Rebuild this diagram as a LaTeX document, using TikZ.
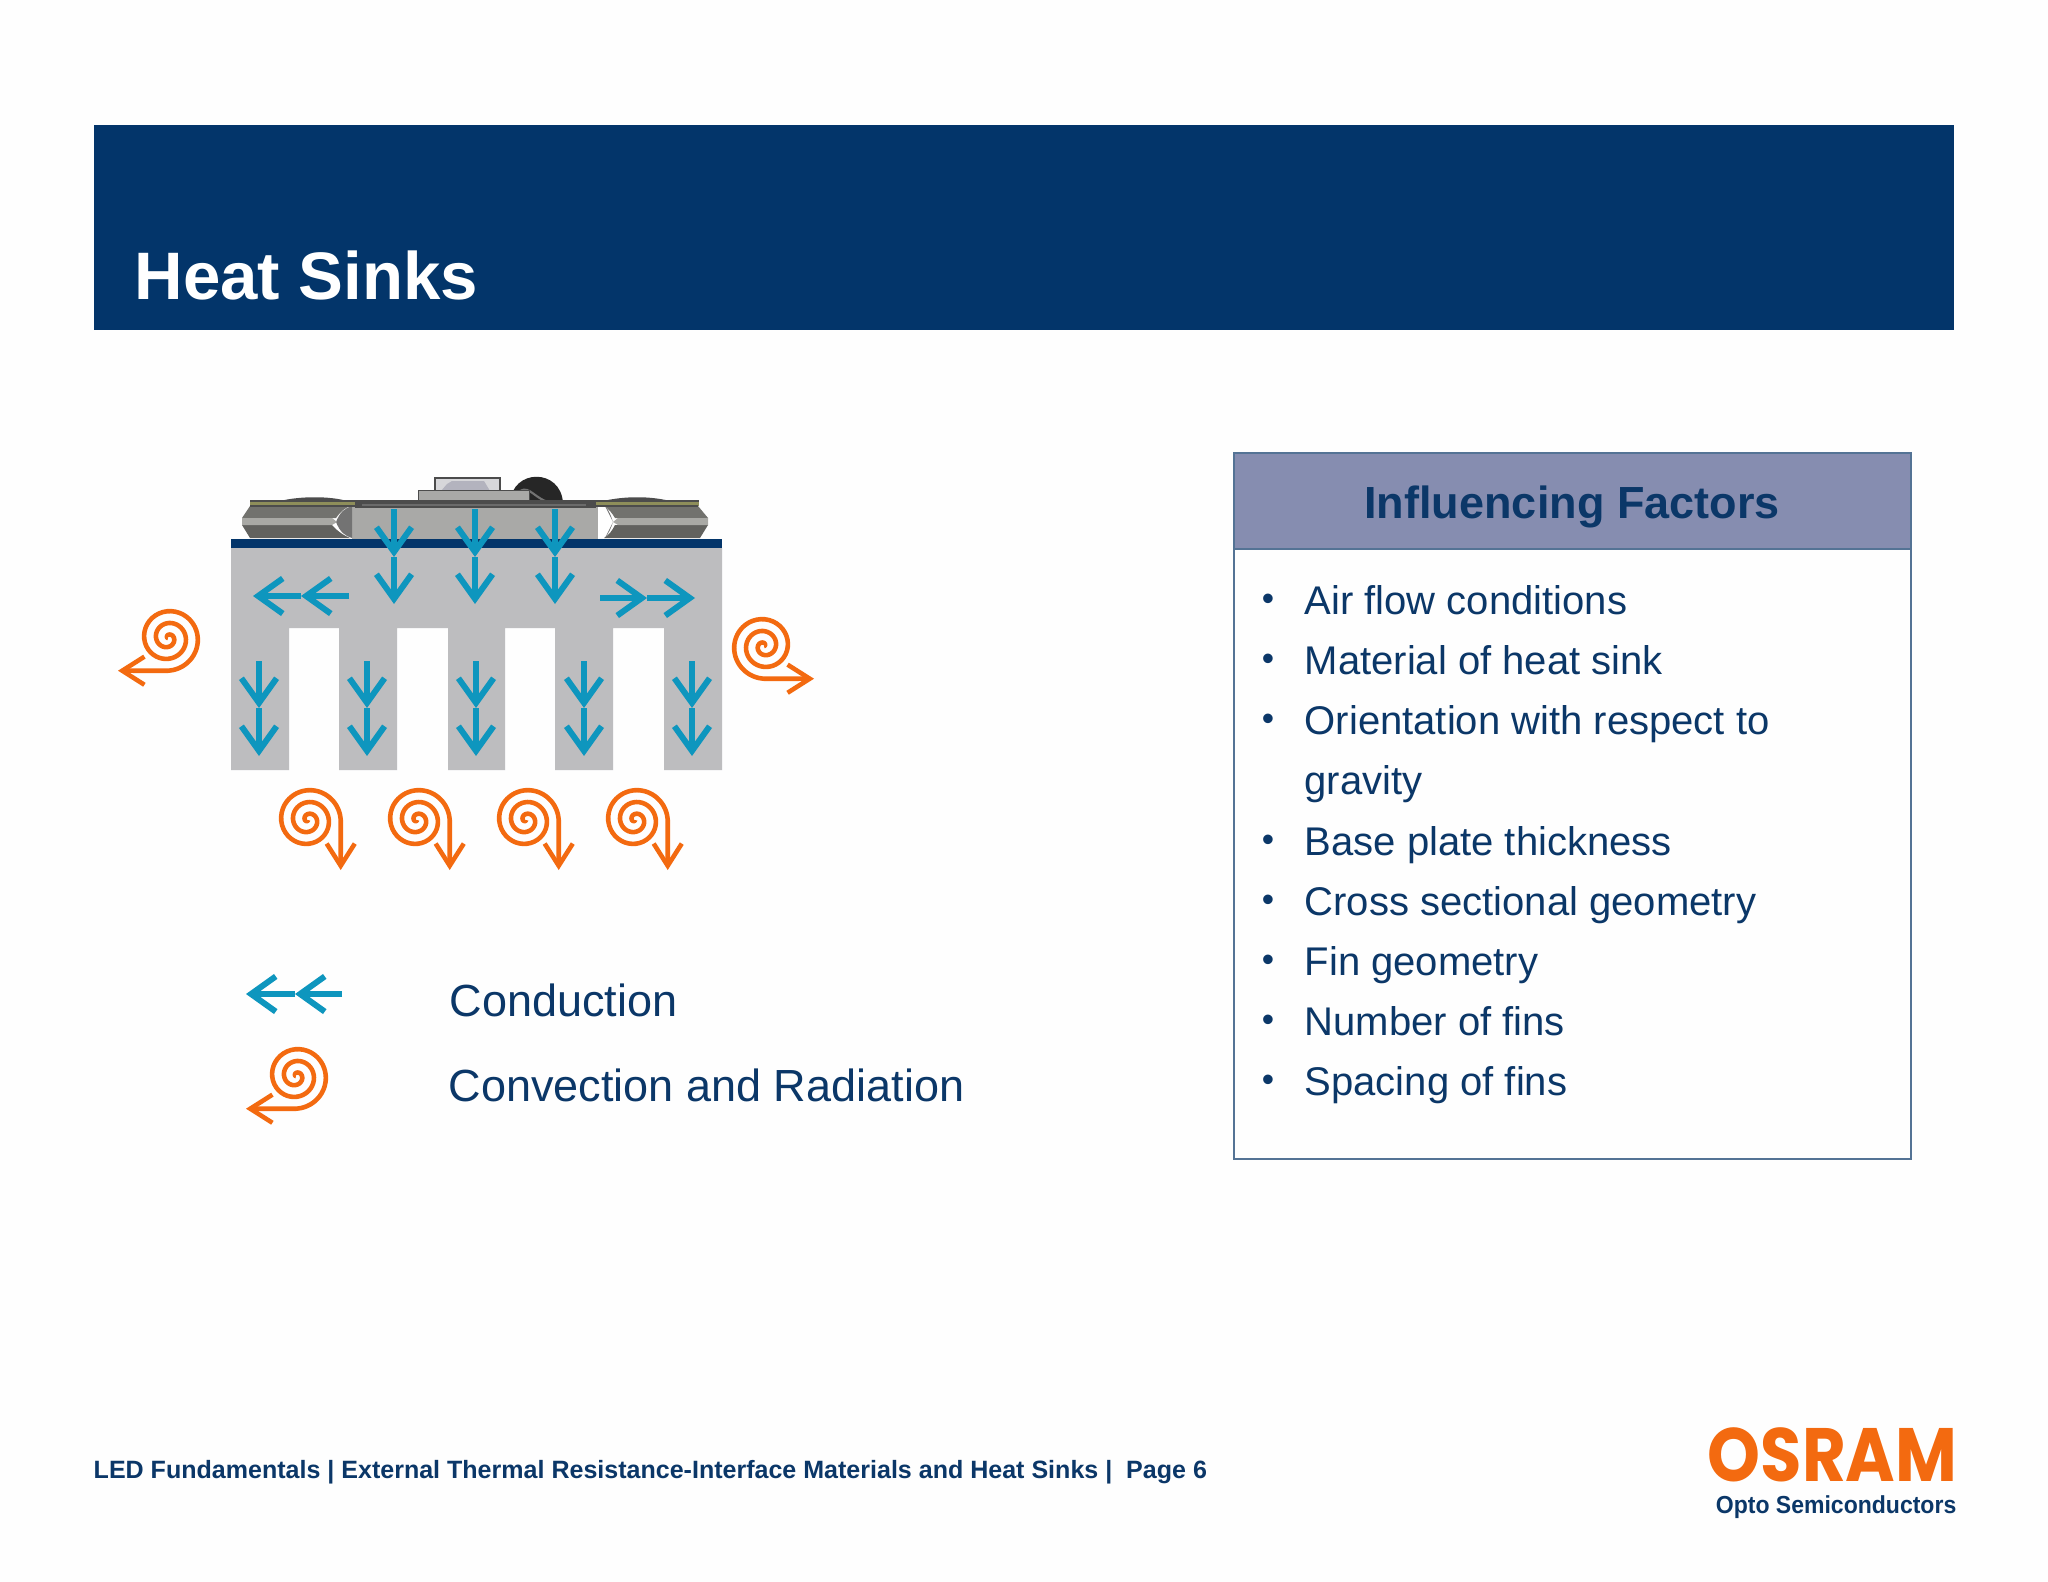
\documentclass[tikz,border=0pt]{standalone}
\usepackage{fontspec}
\usepackage{xcolor}
\usetikzlibrary{arrows.meta}
\setmainfont{Liberation Sans}
\newfontfamily\logofont{Poppins}

\definecolor{navy}{HTML}{03356A}
\definecolor{inktext}{HTML}{0B3768}
\definecolor{headfill}{HTML}{868DB0}
\definecolor{finfill}{HTML}{BDBDBF}
\definecolor{condblue}{HTML}{0E96BE}
\definecolor{swirlorange}{HTML}{F36A10}
\definecolor{leadup}{HTML}{72726E}
\definecolor{leaddown}{HTML}{62625F}
\definecolor{leadstripe}{HTML}{A9A9A5}
\definecolor{bodygray}{HTML}{A9A9A7}
\definecolor{olive}{HTML}{8E8E5A}

\tikzset{
    condarrow/.style = {draw=condblue, line width=1.7pt, -{Straight Barb[length=7pt,width=10pt]}},
    swirlline/.style = {draw=swirlorange, line width=1.3pt, -{Straight Barb[length=6.3pt,width=8pt]}},
    swirl/.pic = {
        \draw[swirlline] plot[smooth, domain=-180:810, samples=110]
            ({(6+0.033*\x)*cos(\x)},{(6+0.033*\x)*sin(\x)}) -- (-50,32.7);
    },
    itemtext/.style = {anchor=base west, inner sep=0pt, text=inktext, font=\fontsize{11.38}{14}\selectfont},
    itembullet/.style = {anchor=base, inner sep=0pt, text=inktext, font=\fontsize{10}{12}\selectfont},
    legendtext/.style = {anchor=base west, inner sep=0pt, text=inktext, font=\fontsize{12.8}{15}\selectfont},
    modline/.style = {draw=black!70, line width=.3pt}
}

\begin{document}
\begin{tikzpicture}[x=0.01cm, y=-0.01cm]
    \useasboundingbox (0,0) rectangle (2048,1582);
    \fill[white!99.6!black] (0,0) rectangle (2048,1582);

    % title band
    \fill[navy] (94,125) rectangle (1954,330);
    \node[anchor=base west, inner sep=0pt, text=white, font=\fontsize{19.1}{23}\selectfont\bfseries] (title) at (134,300) {Heat Sinks};

    % heat sink
    \fill[finfill] (231,548) -- (722,548) -- (722,770) -- (664,770) -- (664,628) -- (613,628) -- (613,770)
        -- (555,770) -- (555,628) -- (505,628) -- (505,770) -- (448,770) -- (448,628) -- (397,628) -- (397,770)
        -- (339,770) -- (339,628) -- (289,628) -- (289,770) -- (231,770) -- cycle;
    \fill[navy] (231,539) rectangle (722,548);

    % LED module
    \fill[black!85] (510,503) .. controls (512,468) and (561,468) .. (563,503) -- cycle;
    \draw[black!55, line width=.6pt] (520,491) .. controls (530,485) and (535,500) .. (552,503);
    \fill[black!70] (280,501) .. controls (300,496) and (330,496) .. (347,501) -- cycle;
    \fill[black!70] (603,501) .. controls (625,496) and (650,496) .. (670,501) -- cycle;
    \fill[blue!4!gray!30] (435,478) rectangle (500,491);
    \draw[modline] (435,478) rectangle (500,491);
    \fill[blue!8!gray!55] (447,484) -- (452,481) -- (484,481) -- (490,491) -- (441,491) -- cycle;
    \draw[modline] (419,491) rectangle (529,502);
    \fill[bodygray] (419,491) rectangle (529,502);
    \fill[bodygray] (352,506) rectangle (598,539);
    \fill[black!55] (336,522) .. controls (340,512) and (345,508) .. (352,506) -- (352,538) .. controls (345,536) and (340,532) .. (336,522) -- cycle;
    \fill[leadup] (250,506) -- (242,518) -- (336,518) .. controls (340,512) and (345,508) .. (350,506) -- cycle;
    \fill[leaddown] (242,525) -- (250,538) -- (350,538) .. controls (345,536) and (338,532) .. (332,525) -- cycle;
    \fill[leadstripe] (242,518) -- (332,518) -- (337,522) -- (332,525) -- (242,525) -- cycle;
    \fill[white] (598,506) .. controls (606,507) and (610,514) .. (613,522) .. controls (610,530) and (606,537) .. (598,538) -- cycle;
    \fill[black!55] (605,506) -- (613,522) -- (605,538) .. controls (609,533) and (611,528) .. (613,522) .. controls (611,516) and (609,510) .. (605,506) -- cycle;
    \fill[leadup] (604,506) -- (698,506) -- (708,518) -- (615,518) .. controls (612,513) and (609,509) .. (604,506) -- cycle;
    \fill[leaddown] (604,538) -- (700,538) -- (708,525) -- (615,525) .. controls (612,531) and (609,535) .. (604,538) -- cycle;
    \fill[leadstripe] (613,522) -- (618,518) -- (708,518) -- (708,525) -- (618,525) -- cycle;
    \fill[olive] (250,501) rectangle (355,506);
    \fill[olive] (596,501) rectangle (699,506);
    \fill[black!70] (355,501) rectangle (596,508);
    \fill[black!58] (362,504) rectangle (586,506);
    \draw[modline] (250,501) -- (699,501);
    \draw[modline] (250,506) -- (360,506);
    \draw[modline] (588,506) -- (698,506);

    % conduction arrows
    \draw[condarrow] (394,509) -- (394,557);
    \draw[condarrow] (394,557) -- (394,604);
    \draw[condarrow] (475,509) -- (475,557);
    \draw[condarrow] (475,557) -- (475,604);
    \draw[condarrow] (555,509) -- (555,557);
    \draw[condarrow] (555,557) -- (555,604);
    \draw[condarrow] (349,596) -- (301,596);
    \draw[condarrow] (301,596) -- (253,596);
    \draw[condarrow] (600,598) -- (647,598);
    \draw[condarrow] (647,598) -- (695,598);
    \foreach \finx in {259,367,476,584,692} {
        \draw[condarrow] (\finx,661) -- (\finx,708);
        \draw[condarrow] (\finx,708) -- (\finx,756);
    }

    % convection swirls
    \pic at (168,638) {swirl};
    \pic[xscale=-1] at (764,646) {swirl};
    \pic[rotate=90] at (308,820) {swirl};
    \pic[rotate=90] at (417,820) {swirl};
    \pic[rotate=90] at (526,820) {swirl};
    \pic[rotate=90] at (635,820) {swirl};

    % legend
    \draw[condarrow] (342,994) -- (295,994);
    \draw[condarrow] (295,994) -- (246,994);
    \pic at (296,1076) {swirl};
    \node[legendtext] (conduction) at (449,1016) {Conduction};
    \node[legendtext] (convection) at (448,1101) {Convection and Radiation};

    % influencing factors box
    \draw[fill=headfill, draw=inktext!70, line width=.3pt] (1234,453) rectangle (1911,549);
    \draw[draw=inktext!70, line width=.3pt] (1234,549) rectangle (1911,1159);
    \node[text=inktext, inner sep=0pt, font=\fontsize{12.8}{15}\selectfont\bfseries] (factors) at (1572,507) {Influencing Factors};

    \node[itembullet] (b1) at (1268,610) {•};
    \node[itembullet] (b2) at (1268,670) {•};
    \node[itembullet] (b3) at (1268,730) {•};
    \node[itembullet] (b4) at (1268,851) {•};
    \node[itembullet] (b5) at (1268,911) {•};
    \node[itembullet] (b6) at (1268,971) {•};
    \node[itembullet] (b7) at (1268,1031) {•};
    \node[itembullet] (b8) at (1268,1091) {•};
    \node[itemtext] (airflow) at (1304,614) {Air flow conditions};
    \node[itemtext] (material) at (1304,674) {Material of heat sink};
    \node[itemtext] (orient) at (1304,734) {Orientation with respect to};
    \node[itemtext] (gravity) at (1304,794) {gravity};
    \node[itemtext] (plate) at (1304,855) {Base plate thickness};
    \node[itemtext] (cross) at (1304,915) {Cross sectional geometry};
    \node[itemtext] (fingeo) at (1304,975) {Fin geometry};
    \node[itemtext] (finnum) at (1304,1035) {Number of fins};
    \node[itemtext] (spacing) at (1304,1095) {Spacing of fins};

    % footer and logo
    \node[anchor=base west, inner sep=0pt, text=inktext, font=\fontsize{7.12}{9}\selectfont\bfseries] (footer) at (93,1478)
        {LED Fundamentals | External Thermal Resistance-Interface Materials and Heat Sinks |~~Page 6};
    \node[anchor=base east, inner sep=0pt, text depth=0pt, text=swirlorange, font=\fontsize{21.5}{24}\logofont\bfseries] (osram) at (1958,1481)
        {\scalebox{.89}[1]{\smash{OSRAM}}};
    \node[anchor=base east, inner sep=0pt, text=inktext, font=\fontsize{7}{8}\selectfont\bfseries] (opto) at (1957,1513)
        {\scalebox{.935}[1]{Opto Semiconductors}};
\end{tikzpicture}
\end{document}
